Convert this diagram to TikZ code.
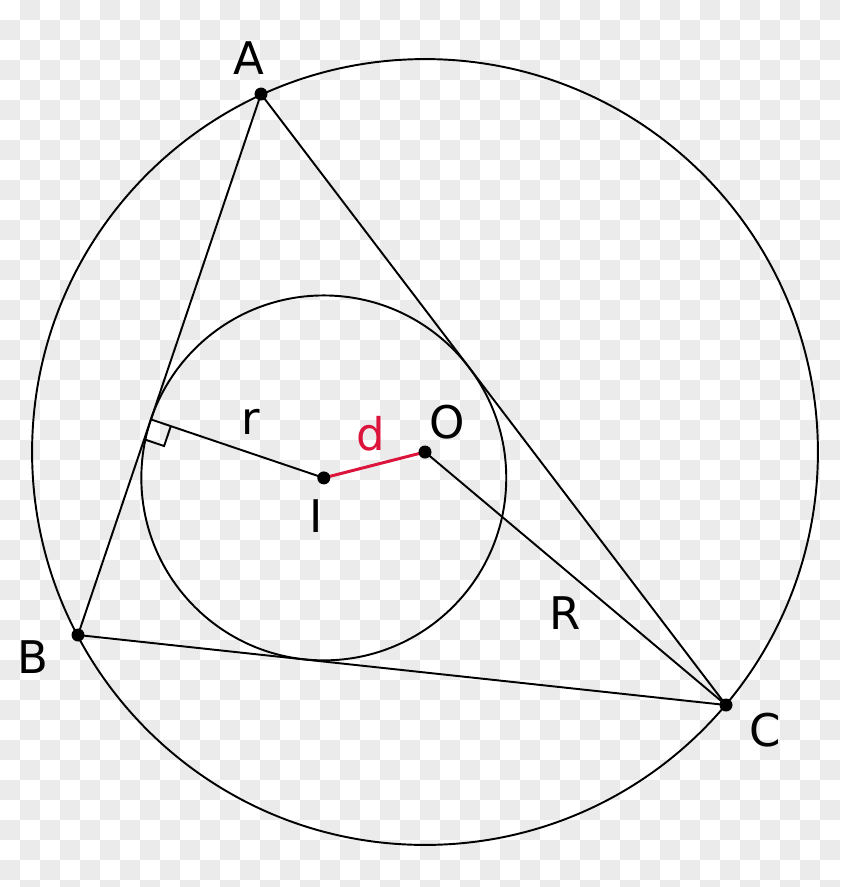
\documentclass[tikz,border=0pt]{standalone}
\usepackage{fontspec}
\setmainfont{DejaVu Sans}
\usetikzlibrary{calc}
\definecolor{checkgray}{RGB}{235,235,235}
\definecolor{dred}{RGB}{220,20,60}

\begin{document}
\begin{tikzpicture}[x=0.02cm,y=-0.02cm,
  seg/.style={line width=1.1pt},
  lbl/.style={font=\fontsize{25.6}{30}\selectfont,inner sep=0pt}]

\useasboundingbox (0,0) rectangle (840,887);
\begin{scope}
\clip (0,0) rectangle (840,887);
\foreach \i in {0,...,41}{\foreach \j in {0,...,44}{
  \pgfmathtruncatemacro\k{\i+\j}
  \ifodd\k \fill[checkgray] (20*\i,20*\j) rectangle ++(20,20);\fi}}
\end{scope}

\coordinate (A) at (261,94);
\coordinate (B) at (78,635);
\coordinate (C) at (726,705);
\coordinate (O) at (425,452);
\coordinate (I) at (323.8,477.9);
\coordinate (F) at ($(A)!(I)!(B)$);

\draw[seg] (O) circle[radius=7.86cm];
\draw[seg] (I) circle[radius=3.65cm];
\draw[seg] (A) -- (B) -- (C) -- cycle;
\draw[seg] (I) -- (F);
\draw[seg] (O) -- (C);

% right angle mark
\coordinate (Fi) at ($(F)!0.42cm!(I)$);
\coordinate (Fb) at ($(F)!0.42cm!(B)$);
\draw[seg] (Fi) -- ($(Fi)+(Fb)-(F)$) -- (Fb);

\draw[dred,line width=1.7pt] (I) -- (O);

\foreach \p in {A,B,C,O,I}
  \fill (\p) circle[radius=0.13cm];

\node[lbl] (labA) at (249,58) {A};
\node[lbl] (labB) at (33,657) {B};
\node[lbl] (labC) at (765,730) {C};
\node[lbl] (labO) at (447,422) {O};
\node[lbl] (labI) at (316,516) {I};
\node[lbl] (labr) at (251,422) {r};
\node[lbl,text=dred] (labd) at (371,434) {d};
\node[lbl] (labR) at (565,613) {R};

\end{tikzpicture}
\end{document}
